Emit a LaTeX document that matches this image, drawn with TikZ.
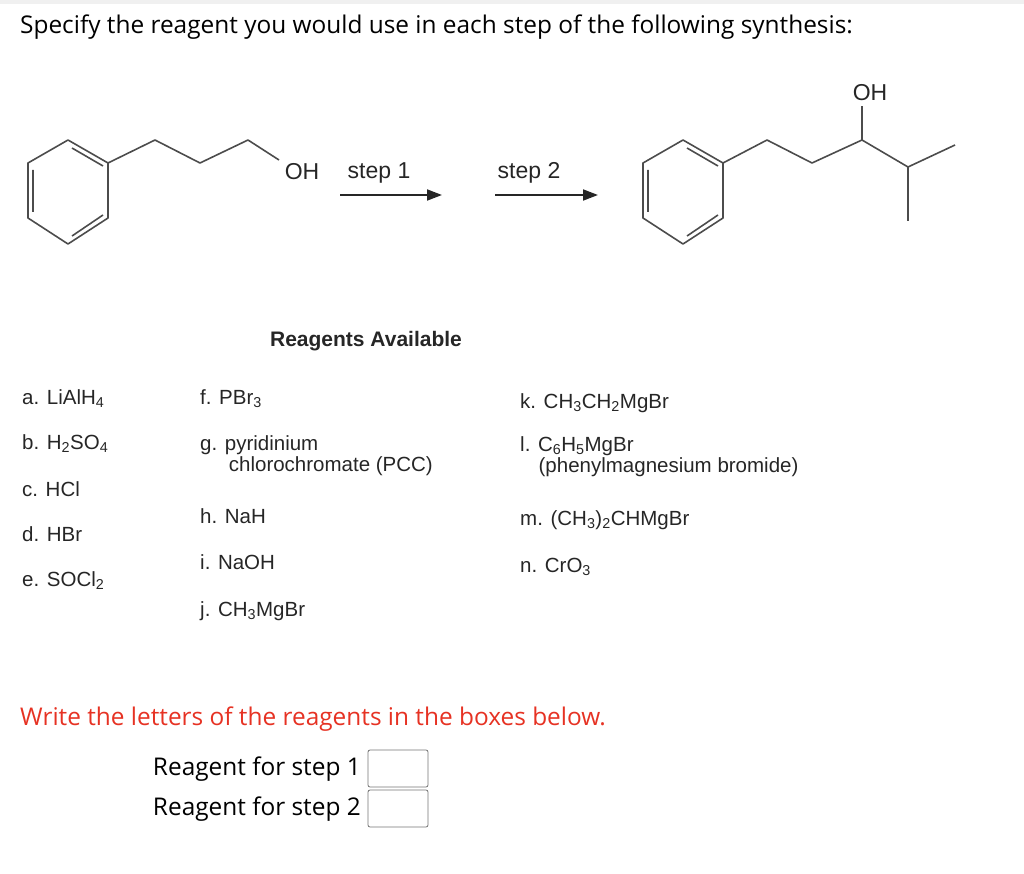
\documentclass[tikz,border=0pt]{standalone}
\usepackage{fontspec}
\setmainfont{Liberation Sans}
\newfontfamily\qfont{Open Sans}
\usetikzlibrary{arrows.meta}
\newcommand{\sbs}[1]{\textsubscript{#1}}
\begin{document}
\begin{tikzpicture}[x=1pt,y=-1pt,
  bond/.style={draw=black!70,line width=1.6pt,line join=round},
  rg/.style={anchor=base west,font=\fontsize{20.5}{22}\selectfont,text=black!85,inner sep=0pt},
  rg2/.style={anchor=north west,align=left,font=\fontsize{20.5}{21}\selectfont,text=black!85,inner sep=0pt},
  qt/.style={font=\qfont\fontsize{24.4}{28}\selectfont,inner sep=0pt},
  lab/.style={font=\fontsize{23}{25}\selectfont,text=black!85,inner sep=0pt},
  rxn/.style={-{Triangle[length=15pt,width=11pt]},line width=1.8pt,black!85},
  ansbox/.style={draw=black!55,rounded corners=2pt,line width=0.8pt}]
\useasboundingbox (0,0) rectangle (1024,874);
\fill[black!6] (0,0) rectangle (1024,4);
\node[qt,anchor=base west] (title) at (20,34) {Specify the reagent you would use in each step of the following synthesis:};
% left molecule
\draw[bond] (68,140)--(108,163)--(108,218)--(68,244)--(28,218)--(28,163)--cycle;
\draw[bond] (33,170)--(33,212) (72,148)--(103,166) (72,236)--(103,215);
\draw[bond] (108,163)--(155,140)--(200,163)--(248,140)--(279,160);
\node[lab] (oh1) at (302,172) {OH};
% arrows
\node[lab] (s1) at (379,173) {step 1};
\coordinate (a1s) at (340,195); \coordinate (a1e) at (442,195);
\draw[rxn] (a1s)--(a1e);
\node[lab] (s2) at (529,173) {step 2};
\coordinate (a2s) at (495,195); \coordinate (a2e) at (598,195);
\draw[rxn] (a2s)--(a2e);
% right molecule
\draw[bond] (683,140)--(723,163)--(723,218)--(683,244)--(643,218)--(643,163)--cycle;
\draw[bond] (648,170)--(648,212) (687,148)--(718,166) (687,236)--(718,215);
\draw[bond] (723,163)--(767,140)--(812,163)--(862,140)--(908,167)--(955,145) (908,167)--(908,221);
\draw[bond] (862,140)--(862,106);
\node[lab] (oh2) at (870,93) {OH};
% reagents
\node[font=\bfseries\fontsize{21}{23}\selectfont,text=black!85] (ra) at (366,341) {Reagents Available};
\node[rg] (a) at (22,404) {a. LiAlH\sbs{4}};
\node[rg] (b) at (22,449) {b. H\sbs{2}SO\sbs{4}};
\node[rg] (c) at (22,496) {c. HCl};
\node[rg] (d) at (22,541) {d. HBr};
\node[rg] (e) at (22,586) {e. SOCl\sbs{2}};
\node[rg] (f) at (200,404) {f. PBr\sbs{3}};
\node[rg2] (g) at (200,435) {g. pyridinium\\\hspace*{1.4em}chlorochromate (PCC)};
\node[rg] (h) at (200,523) {h. NaH};
\node[rg] (i) at (200,569) {i. NaOH};
\node[rg] (j) at (200,616) {j. CH\sbs{3}MgBr};
\node[rg] (k) at (520,408) {k. CH\sbs{3}CH\sbs{2}MgBr};
\node[rg2] (l) at (520,436) {l. C\sbs{6}H\sbs{5}MgBr\\\hspace*{0.9em}(phenylmagnesium bromide)};
\node[rg] (m) at (520,525) {m. (CH\sbs{3})\sbs{2}CHMgBr};
\node[rg] (n) at (520,572) {n. CrO\sbs{3}};
% answer
\node[qt,anchor=base west,text={rgb,255:red,230;green,50;blue,35}] (w) at (20,725) {Write the letters of the reagents in the boxes below.};
\node[qt,anchor=base east] (r1) at (361,775) {Reagent for step 1};
\node[qt,anchor=base east] (r2) at (361,815) {Reagent for step 2};
\draw[ansbox] (368,750) rectangle (428,787);
\draw[ansbox] (368,790) rectangle (428,827);
\end{tikzpicture}
\end{document}
